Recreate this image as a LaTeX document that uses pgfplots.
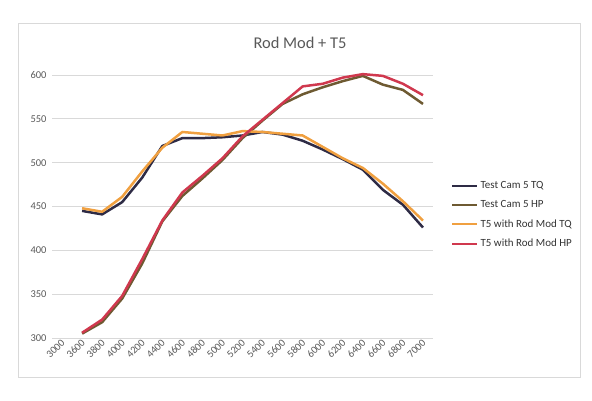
\documentclass[border=0pt]{standalone}
\usepackage{pgfplots}
\pgfplotsset{compat=1.18}
\usepackage{fontspec}
\setmainfont{Carlito}

\definecolor{tqcam}{HTML}{2E2B45}
\definecolor{hpcam}{HTML}{6E5A32}
\definecolor{tqrod}{HTML}{F0A040}
\definecolor{hprod}{HTML}{D0384E}
\definecolor{gridgray}{HTML}{D9D9D9}
\definecolor{txtgray}{HTML}{595959}

% rpm index: 0=3000, 1=3600, 2=3800 ... 18=7000
\pgfplotstableread{
idx camtq camhp rodtq rodhp
1  445 305 448 306
2  441 318 444 321
3  455 345 461 348
4  483 385 490 390
5  519 433 517 434
6  528 462 535 466
7  528 482 533 485
8  529 503 531 505
9  531 528 536 530
10 535 548 535 549
11 532 567 533 568
12 525 578 531 587
13 515 586 518 590
14 504 593 505 597
15 492 599 494 601
16 469 589 476 599
17 452 583 456 590
18 426 567 434 577
}\dyno

\begin{document}
\begin{tikzpicture}[x=1bp,y=1bp]
\useasboundingbox (0,0) rectangle (592,400);
\draw[gridgray, line width=0.8bp] (18,23) rectangle (580,377);
\node[font=\fontsize{16.5}{18}\selectfont, text=txtgray] at (300,357) {Rod Mod + T5};
\begin{axis}[
    at={(52bp,62bp)}, anchor=south west,
    scale only axis,
    width=381bp, height=263bp,
    xmin=-0.5, xmax=18.5,
    ymin=300, ymax=600,
    clip=false,
    axis line style={draw=none},
    major tick length=0pt,
    xtick={0,...,18},
    xticklabels={3000,3600,3800,4000,4200,4400,4600,4800,5000,5200,5400,5600,5800,6000,6200,6400,6600,6800,7000},
    ytick={300,350,...,600},
    ymajorgrids,
    grid style={gridgray, line width=0.8bp},
    tick label style={font=\fontsize{10.5}{12}\selectfont, text=txtgray},
    /pgf/number format/assume math mode=true,
    yticklabel style={xshift=-2bp},
    xticklabel style={rotate=45, anchor=east, xshift=2bp, yshift=-3bp},
    legend cell align=left,
    legend style={at={(rel axis cs:1.047,0.468)}, anchor=west, draw=none, fill=none,
        inner sep=0pt, row sep=6.5bp, font=\fontsize{11}{12}\selectfont, text=black!80},
    legend image code/.code={\draw[#1, line width=2.5bp] (0bp,0bp) -- (25bp,0bp);},
    every axis plot/.append style={line width=2.5bp, line join=round},
]
\addplot[tqcam] table[x=idx, y=camtq] {\dyno};
\addlegendentry{Test Cam 5 TQ}
\addplot[hpcam] table[x=idx, y=camhp] {\dyno};
\addlegendentry{Test Cam 5 HP}
\addplot[tqrod] table[x=idx, y=rodtq] {\dyno};
\addlegendentry{T5 with Rod Mod TQ}
\addplot[hprod] table[x=idx, y=rodhp] {\dyno};
\addlegendentry{T5 with Rod Mod HP}
\end{axis}
\end{tikzpicture}
\end{document}
